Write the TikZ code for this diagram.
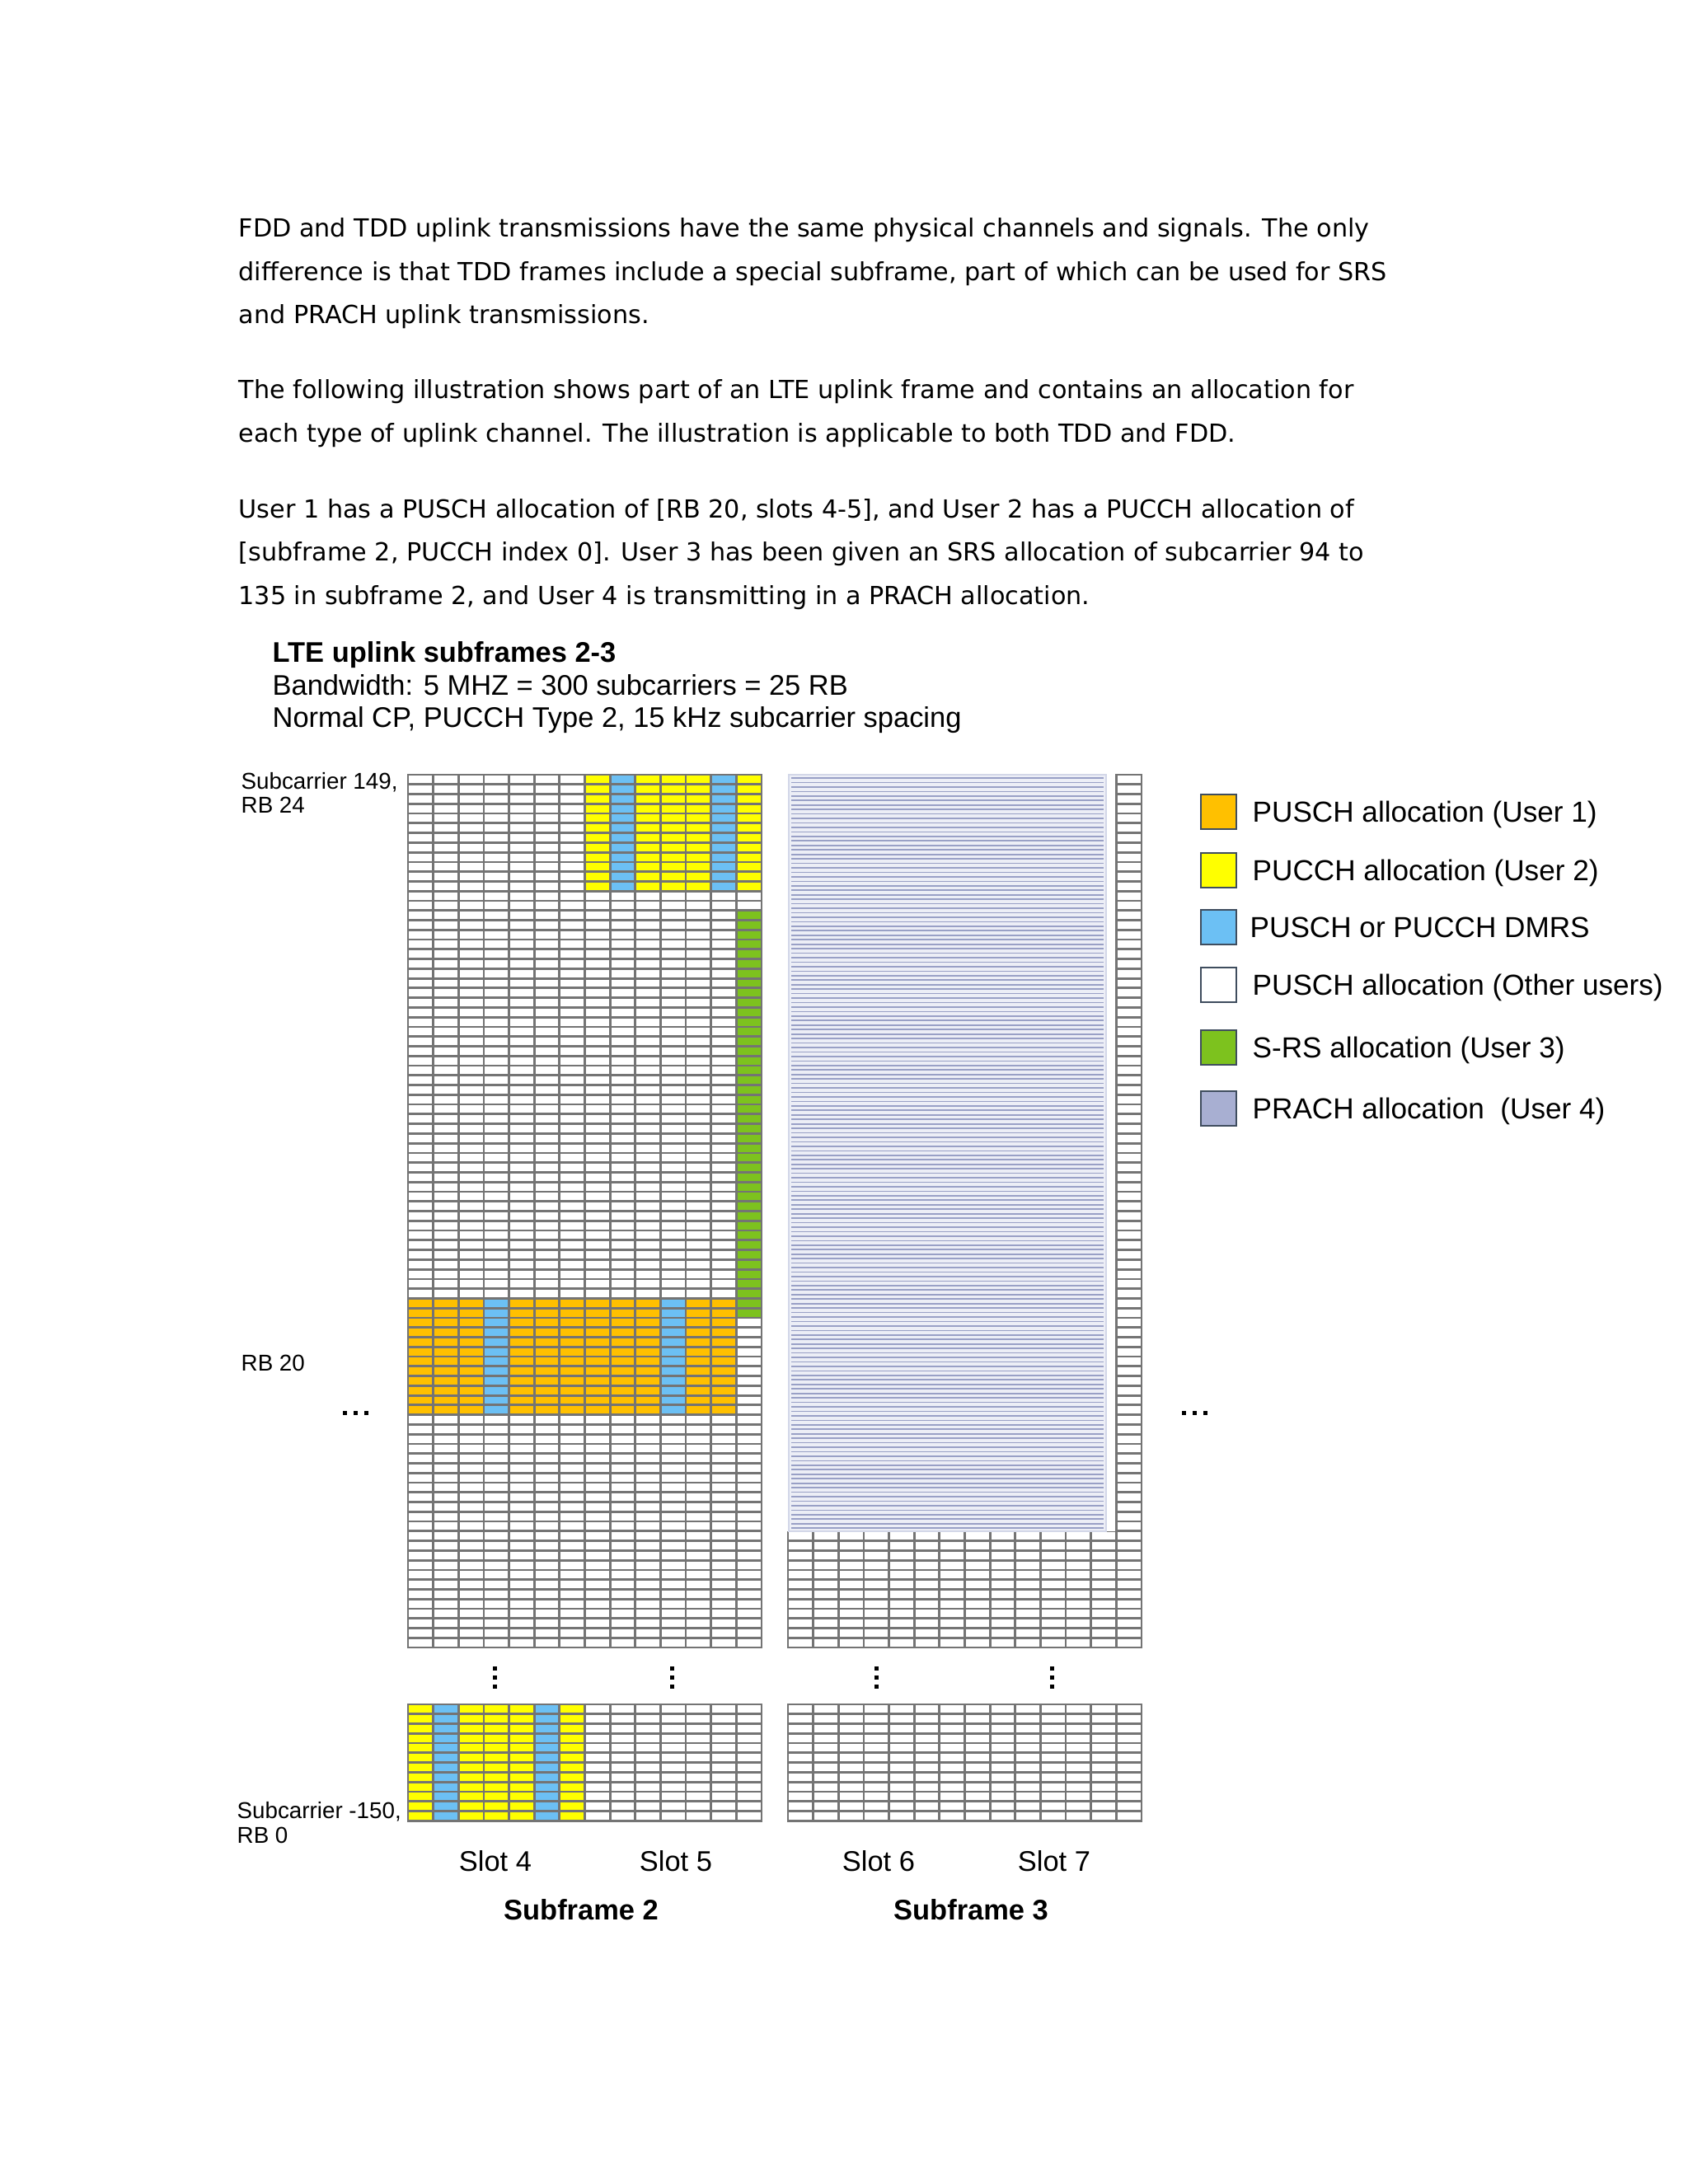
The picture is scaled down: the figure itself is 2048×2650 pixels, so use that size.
\documentclass[tikz,border=0pt]{standalone}
\usepackage{fontspec}
\setmainfont{Liberation Sans}
\newfontfamily\bodyfont{DejaVu Sans}
\definecolor{corg}{HTML}{FFC000}
\definecolor{cyel}{HTML}{FFFF00}
\definecolor{cblu}{HTML}{6CC0F4}
\definecolor{cgrn}{HTML}{7DC21E}
\definecolor{cprl}{HTML}{A8AFD2}
\definecolor{prbg}{HTML}{ECEEF6}
\definecolor{prln}{HTML}{99A0C6}
\definecolor{gridgray}{HTML}{747474}
\definecolor{legbd}{HTML}{3F4D5E}
\def\cw{30.643}
\def\rh{11.767}
\newcommand\blk[7]{\fill[#7] ({#1+#3*\cw},{#2+#5*\rh}) rectangle ({#1+(#4+1)*\cw},{#2+(#6+1)*\rh});}
\newcommand\gridlines[4]{%
  \foreach \i in {0,...,#3} \draw[gl] ({#1+\i*\cw},#2) -- ({#1+\i*\cw},{#2+#4*\rh});
  \foreach \j in {0,...,#4} \draw[gl] (#1,{#2+\j*\rh}) -- ({#1+#3*\cw},{#2+\j*\rh});}
\tikzset{
  gl/.style={draw=gridgray, line width=0.28mm, line cap=rect},
  body/.style={anchor=base west, inner sep=0pt, font=\bodyfont\fontsize{8.6}{10}\selectfont},
  dia/.style={anchor=base west, inner sep=0pt, font=\fontsize{9.8}{11}\selectfont},
  diab/.style={inner sep=0pt, font=\bfseries\fontsize{9.8}{11}\selectfont},
  lab/.style={anchor=base west, inner sep=0pt, font=\fontsize{7.9}{9}\selectfont},
  slotlab/.style={anchor=base, inner sep=0pt, font=\fontsize{9.8}{11}\selectfont},
  legbox/.style={draw=legbd, line width=0.25mm},
  legtxt/.style={anchor=base west, inner sep=0pt, font=\fontsize{10}{12}\selectfont},
  dotsq/.style={fill=black},
}
\begin{document}
\begin{tikzpicture}[x=0.1mm,y=-0.1mm]
\useasboundingbox (0,0) rectangle (2048,2650);
\fill[white] (0,0) rectangle (2048,2650);

% body text
\node[body] (t1) at (289,287) {FDD and TDD uplink transmissions have the same physical channels and signals. The only};
\node[body] (t2) at (289,340) {difference is that TDD frames include a special subframe, part of which can be used for SRS};
\node[body] (t3) at (289,392) {and PRACH uplink transmissions.};
\node[body] (t4) at (289,483) {The following illustration shows part of an LTE uplink frame and contains an allocation for};
\node[body] (t5) at (289,536) {each type of uplink channel. The illustration is applicable to both TDD and FDD.};
\node[body] (t6) at (289,628) {User 1 has a PUSCH allocation of [RB 20, slots 4-5], and User 2 has a PUCCH allocation of};
\node[body] (t7) at (289,680) {[subframe 2, PUCCH index 0]. User 3 has been given an SRS allocation of subcarrier 94 to};
\node[body] (t8) at (289,733) {135 in subframe 2, and User 4 is transmitting in a PRACH allocation.};

% diagram title
\node[diab, anchor=base west] (title) at (330,803) {LTE uplink subframes 2-3};
\node[dia] (bw) at (330,843) {Bandwidth: 5 MHZ = 300 subcarriers = 25 RB};
\node[dia] (cp) at (330,882) {Normal CP, PUCCH Type 2, 15 kHz subcarrier spacing};

% subframe 2 main grid
\blk{495}{940}{7}{13}{0}{11}{cyel}
\blk{495}{940}{8}{8}{0}{11}{cblu}
\blk{495}{940}{12}{12}{0}{11}{cblu}
\blk{495}{940}{13}{13}{14}{55}{cgrn}
\blk{495}{940}{0}{12}{54}{65}{corg}
\blk{495}{940}{3}{3}{54}{65}{cblu}
\blk{495}{940}{10}{10}{54}{65}{cblu}
\gridlines{495}{940}{14}{90}

% subframe 2 bottom grid
\blk{495}{2068}{0}{6}{0}{11}{cyel}
\blk{495}{2068}{1}{1}{0}{11}{cblu}
\blk{495}{2068}{5}{5}{0}{11}{cblu}
\gridlines{495}{2068}{14}{12}

% subframe 3 main grid
\gridlines{956}{940}{14}{90}
\fill[white] (953,937) rectangle (1352.5,1858);
\fill[prbg, draw=prbg!70!prln, line width=0.15mm] (957,940) rectangle (1342,1858);
\foreach \k in {0,...,167} \draw[prln, line width=0.17mm] (960,{944+\k*5.45}) -- (1339,{944+\k*5.45});

% subframe 3 bottom grid
\gridlines{956}{2068}{14}{12}

% ellipsis dots
\foreach \xx in {418,431,444} \fill[dotsq] (\xx-2.5,1712) rectangle (\xx+2.5,1717);
\foreach \xx in {1436,1449,1462} \fill[dotsq] (\xx-2.5,1712) rectangle (\xx+2.5,1717);
\foreach \xx in {600,815,1063,1276} {
  \foreach \yy in {2024,2035,2046} \fill[dotsq] (\xx-2.5,\yy-2.5) rectangle (\xx+2.5,\yy+2.5);
}

% axis labels
\node[lab] (sc149) at (292,957) {Subcarrier 149,};
\node[lab] (rb24) at (292,986) {RB 24};
\node[lab] (rb20) at (292,1663) {RB 20};
\node[lab] (scm150) at (287,2206) {Subcarrier -150,};
\node[lab] (rb0) at (287,2236) {RB 0};

\node[slotlab] (s4) at (601,2270) {Slot 4};
\node[slotlab] (s5) at (820,2270) {Slot 5};
\node[slotlab] (s6) at (1066,2270) {Slot 6};
\node[slotlab] (s7) at (1279,2270) {Slot 7};
\node[diab, anchor=base] (sf2) at (705,2329) {Subframe 2};
\node[diab, anchor=base] (sf3) at (1178,2329) {Subframe 3};

% legend
\foreach \yy/\cc in {985/corg,1056/cyel,1125/cblu,1195/white,1271/cgrn,1345/cprl}
  \filldraw[legbox, fill=\cc] (1457,\yy-21) rectangle (1500,\yy+21);
\node[legtxt] (l1) at (1519,997) {PUSCH allocation (User 1)};
\node[legtxt] (l2) at (1519,1068) {PUCCH allocation (User 2)};
\node[legtxt] (l3) at (1516,1137) {PUSCH or PUCCH DMRS};
\node[legtxt] (l4) at (1519,1207) {PUSCH allocation (Other users)};
\node[legtxt] (l5) at (1519,1283) {S-RS allocation (User 3)};
\node[legtxt] (l6) at (1519,1357) {PRACH allocation \ (User 4)};
\end{tikzpicture}
\end{document}
